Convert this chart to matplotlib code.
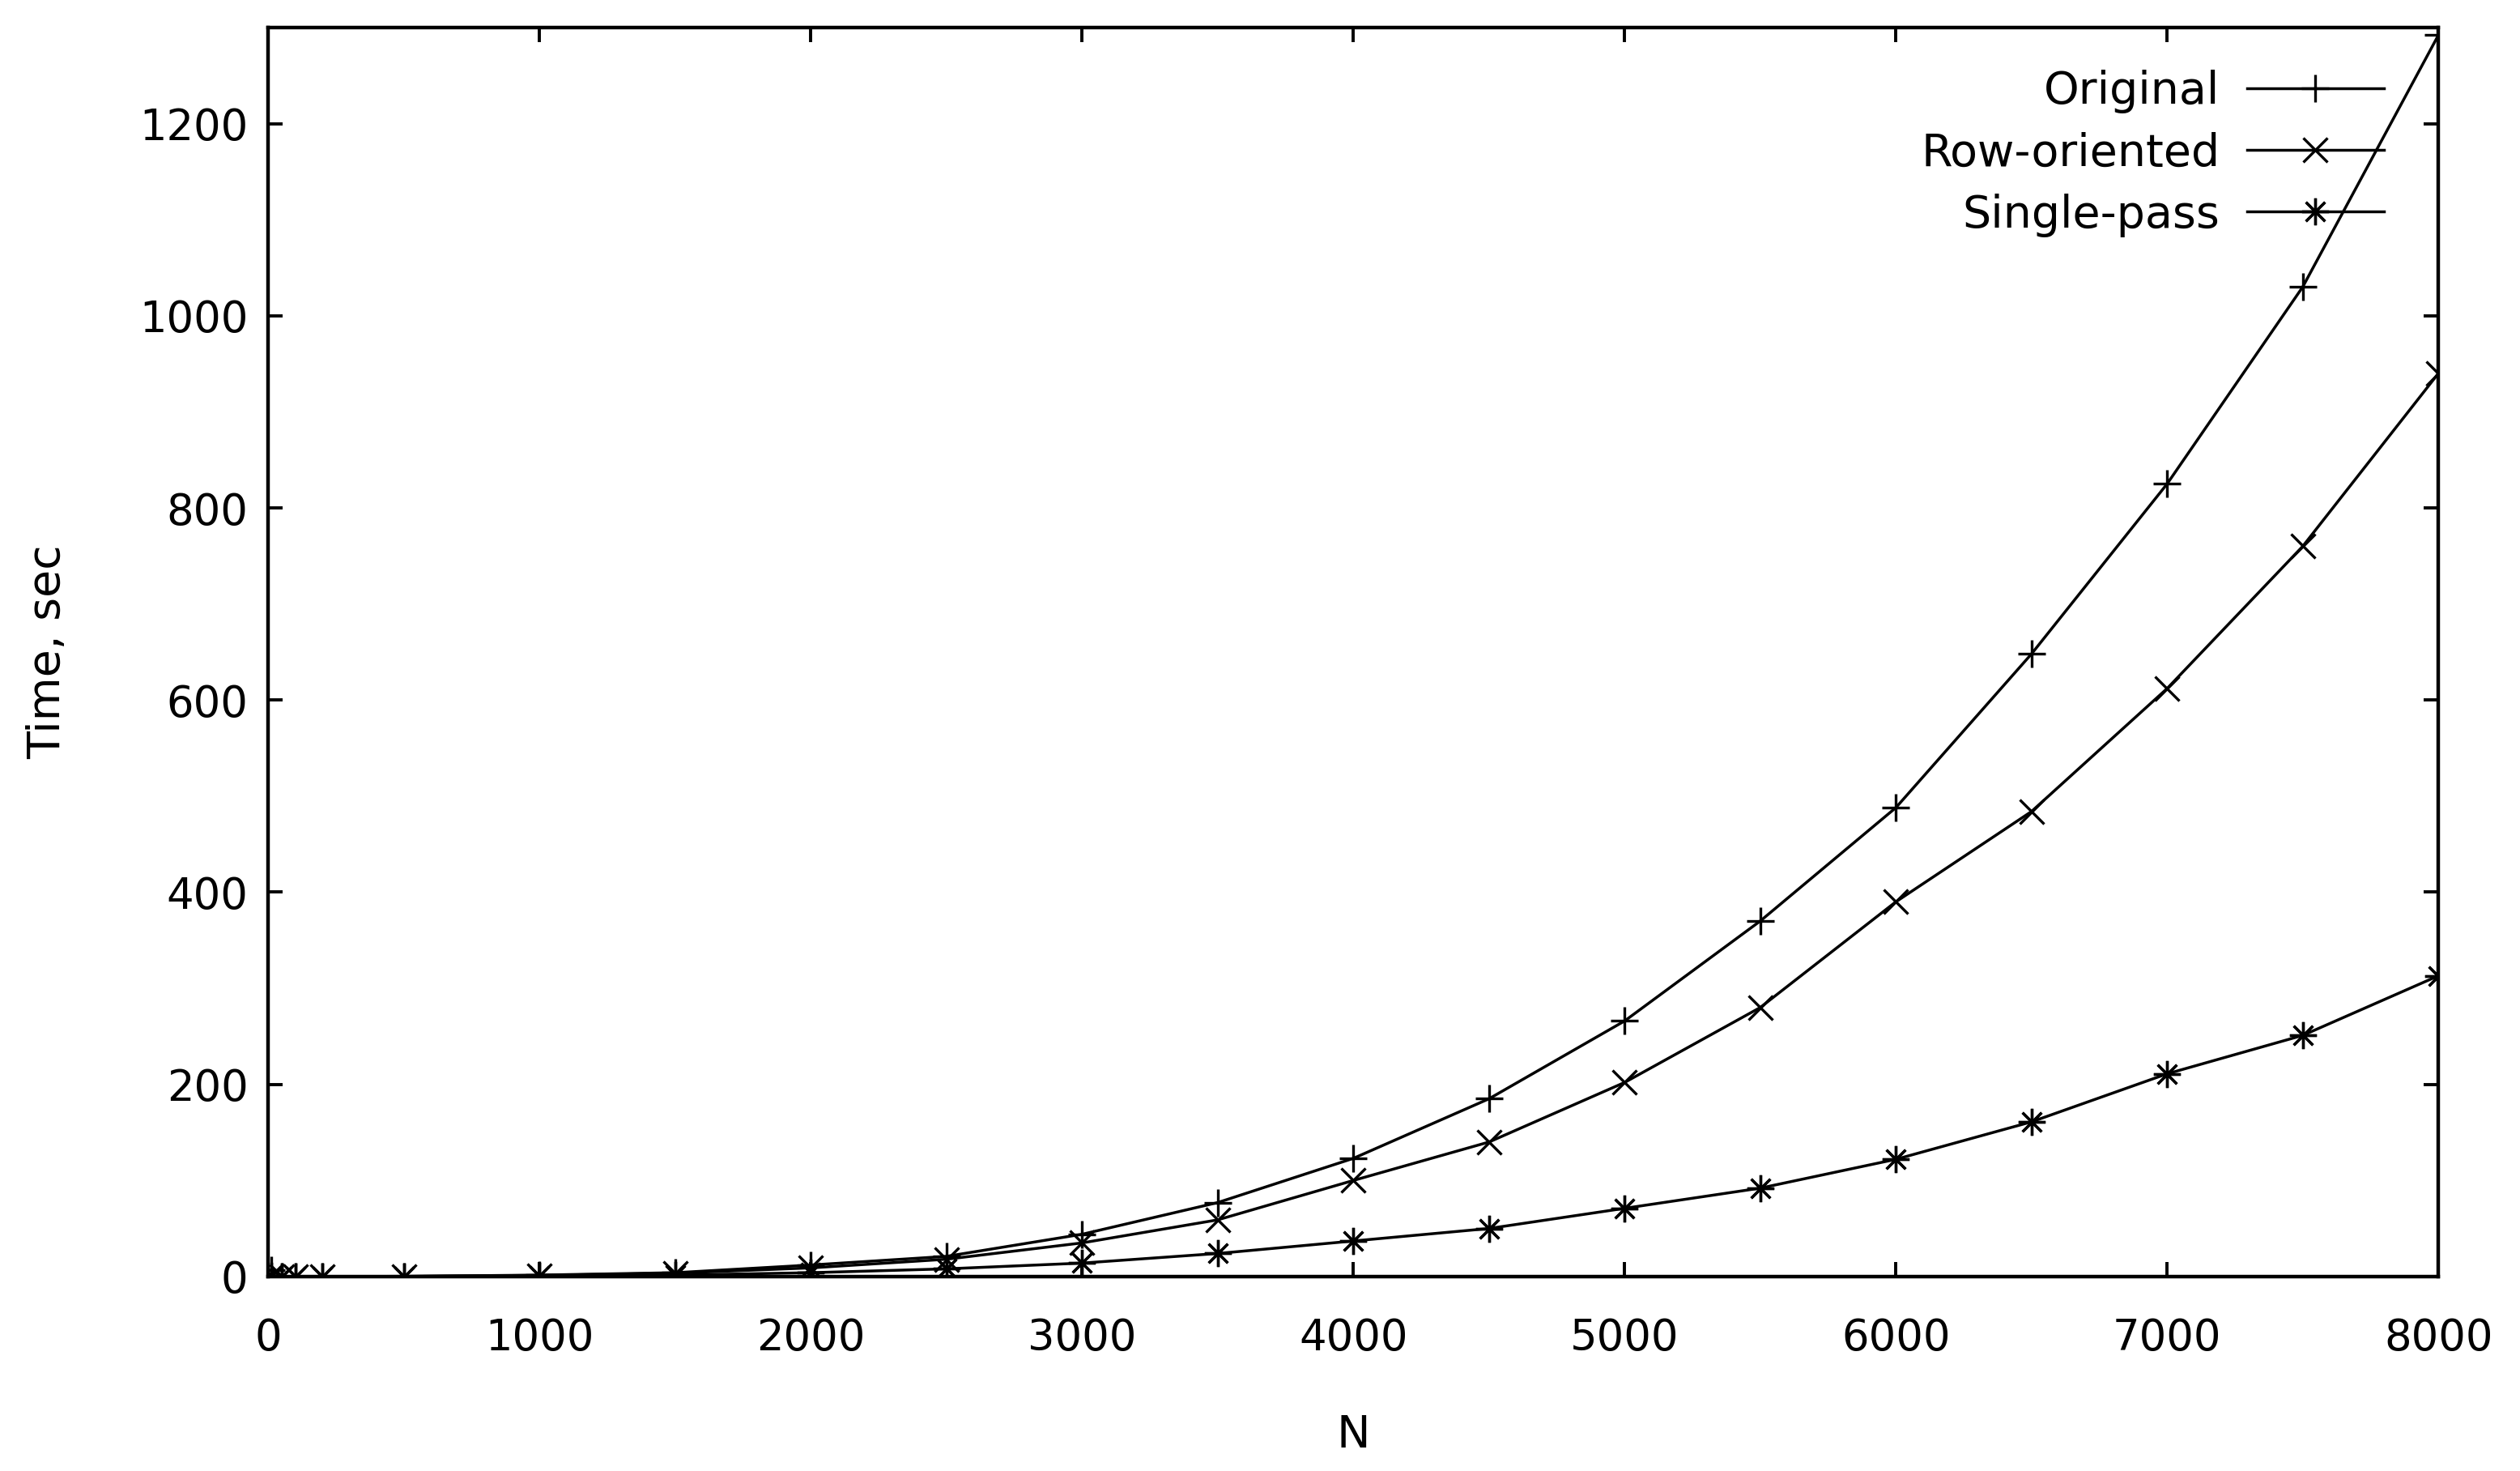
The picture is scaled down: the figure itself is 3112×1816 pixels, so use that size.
import matplotlib
matplotlib.use('Agg')
import matplotlib.pyplot as plt

# problem size N and run time in seconds
n_values = [10, 50, 100, 200, 500, 1000, 1500, 2000, 2500, 3000, 3500,
            4000, 4500, 5000, 5500, 6000, 6500, 7000, 7500, 8000]
original = [7, 0, 0, 0, 0.2, 1.5, 4, 12, 21, 44, 77,
            123, 185, 266, 370, 488, 648, 825, 1030, 1292]
row_oriented = [1, 0, 0, 0, 0.2, 1.2, 3.5, 9, 18, 35, 59,
                100, 140, 202, 280, 390, 484, 612, 760, 940]
single_pass = [1, 0, 0, 0, 0.1, 0.6, 1.5, 4, 8, 14, 24,
               37, 50, 71, 92, 122, 161, 211, 251, 313]

x_ticks = [0, 1000, 2000, 3000, 4000, 5000, 6000, 7000, 8000]
y_ticks = [0, 200, 400, 600, 800, 1000, 1200]

plt.rcParams['font.family'] = ['DejaVu Sans']
plt.rcParams['font.size'] = 20

fig = plt.figure(figsize=(15.56, 9.08), dpi=200)
ax = fig.add_axes([0.1065, 0.1322, 0.8611, 0.8491])

lw = 1.25
ax.plot(n_values, original, color='black', lw=lw, marker='+', ms=12.5, mew=1.2,
        label='Original')
ax.plot(n_values, row_oriented, color='black', lw=lw, marker='x', ms=11, mew=1.2,
        label='Row-oriented')
ax.plot(n_values, single_pass, color='black', lw=lw, marker=(8, 2, 0), ms=12, mew=1.2,
        label='Single-pass')

ax.set_xlim(0, 8000)
ax.set_ylim(0, 1300)
ax.set_xticks(x_ticks)
ax.set_yticks(y_ticks)
ax.tick_params(direction='in', length=6.5, width=1.4, top=True, right=True,
               labelsize=19)
ax.tick_params(axis='x', pad=18)
ax.tick_params(axis='y', pad=9)
for s in ax.spines.values():
    s.set_linewidth(1.6)

ax.set_xlabel('N', labelpad=24)
ax.set_ylabel('Time, sec', labelpad=31)

leg = ax.legend(loc='upper right', markerfirst=False, frameon=False,
                handlelength=3.05, handletextpad=0.6, labelspacing=0.4,
                borderpad=0, borderaxespad=0, bbox_to_anchor=(0.975, 0.966))

fig.savefig('out.png', dpi=200, facecolor='white')
